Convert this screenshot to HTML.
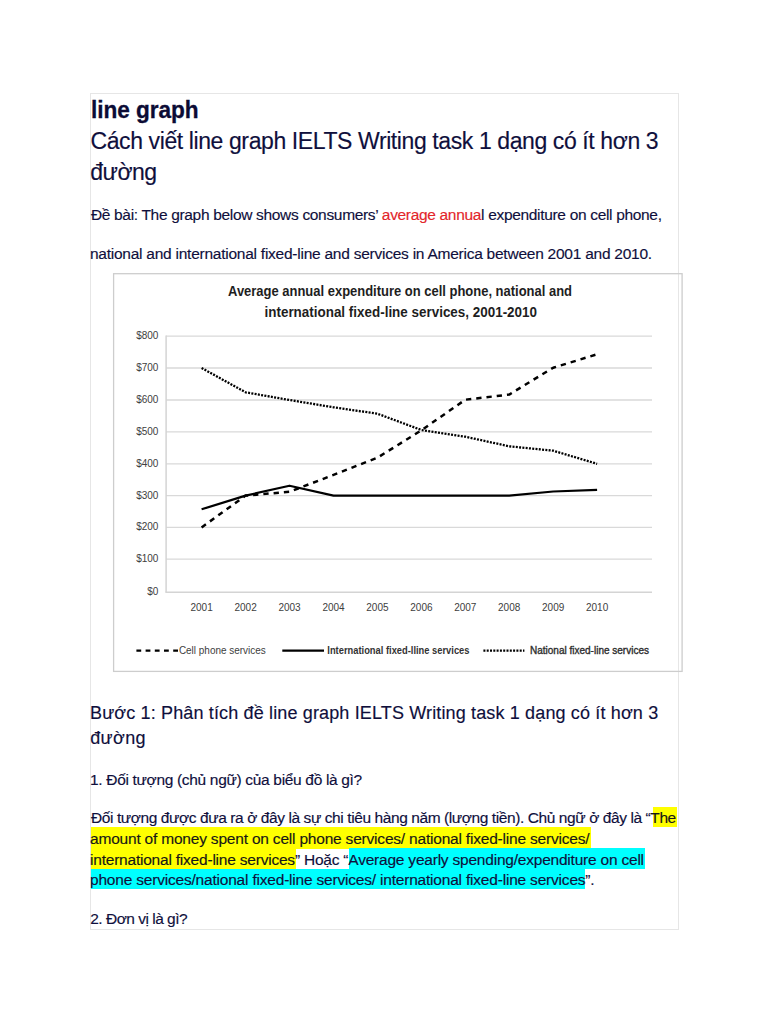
<!DOCTYPE html>
<html><head><meta charset="utf-8"><style>
html,body{margin:0;padding:0;background:#fff;}
body{width:768px;height:1024px;position:relative;overflow:hidden;font-family:"Liberation Sans",sans-serif;color:#0f0f3c;}
.t{position:absolute;white-space:nowrap;line-height:1;}
.pg{position:absolute;left:90px;top:93px;width:587px;height:835px;border:1px solid #e6e6e6;}
.hy{background:#ffff00;}
.hc{background:#00ffff;}
.red{color:#e3262b;}
svg{position:absolute;left:0;top:0;}
</style></head><body>
<div class="pg"></div>
<div class="hy" style="position:absolute;left:653.4px;top:807.4px;width:24.1px;height:20px"></div>
<div class="hy" style="position:absolute;left:91px;top:827.4px;width:500.3px;height:21.2px"></div>
<div class="hy" style="position:absolute;left:91px;top:848.6px;width:205.1px;height:20.1px"></div>
<div class="hc" style="position:absolute;left:349px;top:848.4px;width:296px;height:20.3px"></div>
<div class="hc" style="position:absolute;left:91px;top:868.7px;width:494.3px;height:20.4px"></div>
<div class="t m" id="L1" style="left:90.9px;top:98.48px;font-size:24px;letter-spacing:-0.066px;font-weight:bold;color:#0b0b35;transform:scaleX(0.942);transform-origin:0 0;-webkit-text-stroke:0.3px currentColor;">line graph</div><div class="t m" id="L2" style="left:90.5px;top:129.93px;font-size:23px;letter-spacing:-0.399px;-webkit-text-stroke:0.15px currentColor;">Cách viết line graph IELTS Writing task 1 dạng có ít hơn 3</div><div class="t m" id="L3" style="left:90.25px;top:160.73px;font-size:23px;letter-spacing:-0.508px;-webkit-text-stroke:0.15px currentColor;">đường</div><div class="t m" id="L4" style="left:90.9px;top:206.78px;font-size:15.5px;letter-spacing:-0.322px;-webkit-text-stroke:0.15px currentColor;">Đề bài: The graph below shows consumers’ <span class="red">average annua</span>l expenditure on cell phone,</div><div class="t m" id="L5" style="left:89.9px;top:246.18px;font-size:15.5px;letter-spacing:-0.244px;-webkit-text-stroke:0.15px currentColor;">national and international fixed-line and services in America between 2001 and 2010.</div><div class="t m" id="L7" style="left:90.0px;top:704.16px;font-size:18px;letter-spacing:0.145px;-webkit-text-stroke:0.15px currentColor;">Bước 1: Phân tích đề line graph IELTS Writing task 1 dạng có ít hơn 3</div><div class="t m" id="L8" style="left:90.25px;top:729.36px;font-size:18px;letter-spacing:0.342px;-webkit-text-stroke:0.15px currentColor;">đường</div><div class="t m" id="L9" style="left:90.0px;top:772.28px;font-size:15.5px;letter-spacing:-0.322px;-webkit-text-stroke:0.15px currentColor;">1. Đối tượng (chủ ngữ) của biểu đồ là gì?</div><div class="t m" id="L10" style="left:91.0px;top:809.78px;font-size:15.5px;letter-spacing:-0.411px;-webkit-text-stroke:0.15px currentColor;">Đối tượng được đưa ra ở đây là sự chi tiêu hàng năm (lượng tiền). Chủ ngữ ở đây là “<span style="color:#171717">The</span></div><div class="t m" id="L11" style="left:90.0px;top:831.08px;font-size:15.5px;letter-spacing:-0.2px;color:#171717;-webkit-text-stroke:0.15px currentColor;">amount of money spent on cell phone services/ national fixed-line services/</div><div class="t m" id="L12" style="left:90.0px;top:852.18px;font-size:15.5px;letter-spacing:-0.214px;-webkit-text-stroke:0.15px currentColor;"><span style="color:#171717">international fixed-line services</span>” Hoặc “Average yearly spending/expenditure on cell</div><div class="t m" id="L13" style="left:90.0px;top:872.38px;font-size:15.5px;letter-spacing:-0.199px;-webkit-text-stroke:0.15px currentColor;">phone services/national fixed-line services/ international fixed-line services”.</div><div class="t m" id="L14" style="left:90.25px;top:911.08px;font-size:15.5px;letter-spacing:-0.503px;-webkit-text-stroke:0.15px currentColor;">2. Đơn vị là gì?</div>
<svg width="768" height="1024" viewBox="0 0 768 1024" style="position:absolute;left:0;top:0">
<rect x="113.6" y="273.7" width="568.5" height="397.7" fill="none" stroke="#cdcdcd" stroke-width="1.3"/>
<line x1="166" y1="559.1" x2="652" y2="559.1" stroke="#d9d9d9" stroke-width="1.3"/>
<line x1="166" y1="527.4" x2="652" y2="527.4" stroke="#d9d9d9" stroke-width="1.3"/>
<line x1="166" y1="495.6" x2="652" y2="495.6" stroke="#d9d9d9" stroke-width="1.3"/>
<line x1="166" y1="463.8" x2="652" y2="463.8" stroke="#d9d9d9" stroke-width="1.3"/>
<line x1="166" y1="431.9" x2="652" y2="431.9" stroke="#d9d9d9" stroke-width="1.3"/>
<line x1="166" y1="400" x2="652" y2="400" stroke="#d9d9d9" stroke-width="1.3"/>
<line x1="166" y1="368" x2="652" y2="368" stroke="#d9d9d9" stroke-width="1.3"/>
<line x1="166" y1="336.2" x2="652" y2="336.2" stroke="#d9d9d9" stroke-width="1.3"/>
<line x1="166.1" y1="335.6" x2="166.1" y2="592.3" stroke="#d4d4d4" stroke-width="1.5"/>
<line x1="165.4" y1="592.3" x2="652" y2="592.3" stroke="#d4d4d4" stroke-width="1.5"/>
<g font-family="Liberation Sans, sans-serif" font-weight="bold" fill="#1e1e1e">
<text id="ct1" x="228" y="295.5" font-size="14" textLength="344" lengthAdjust="spacingAndGlyphs">Average annual expenditure on cell phone, national and</text>
<text id="ct2" x="264.5" y="316.7" font-size="14" textLength="272.5" lengthAdjust="spacingAndGlyphs">international fixed-line services, 2001-2010</text>
</g>
<g font-family="Liberation Sans, sans-serif" font-size="10" fill="#404040" text-anchor="end">
<text x="158.4" y="595.3">$0</text>
<text x="158.4" y="562.1">$100</text>
<text x="158.4" y="530.4">$200</text>
<text x="158.4" y="498.6">$300</text>
<text x="158.4" y="466.8">$400</text>
<text x="158.4" y="434.9">$500</text>
<text x="158.4" y="403.0">$600</text>
<text x="158.4" y="371.0">$700</text>
<text x="158.4" y="339.2">$800</text>
</g>
<g font-family="Liberation Sans, sans-serif" font-size="10" fill="#404040" text-anchor="middle">
<text x="201.6" y="611">2001</text>
<text x="245.6" y="611">2002</text>
<text x="289.5" y="611">2003</text>
<text x="333.5" y="611">2004</text>
<text x="377.4" y="611">2005</text>
<text x="421.4" y="611">2006</text>
<text x="465.3" y="611">2007</text>
<text x="509.2" y="611">2008</text>
<text x="553.2" y="611">2009</text>
<text x="597.1" y="611">2010</text>
</g>
<polyline points="201.6,368.0 245.6,392.3 289.5,400.0 333.5,407.3 377.4,413.7 421.4,430.0 465.3,436.7 509.2,446.3 553.2,450.7 597.1,463.8" fill="none" stroke="#000" stroke-width="2.3" stroke-dasharray="2 1.3" stroke-linejoin="round"/>
<polyline points="201.6,527.4 245.6,495.6 289.5,491.8 333.5,474.9 377.4,457.7 421.4,430.3 465.3,399.7 509.2,394.6 553.2,367.7 597.1,354.3" fill="none" stroke="#000" stroke-width="2.5" stroke-dasharray="5.3 5.0" stroke-linejoin="round"/>
<polyline points="201.6,509.3 245.6,495.6 289.5,485.7 333.5,495.6 377.4,495.6 421.4,495.6 465.3,495.6 509.2,495.6 553.2,491.5 597.1,489.9" fill="none" stroke="#000" stroke-width="2.2" stroke-linejoin="round" stroke-linecap="butt"/>
<line x1="136.4" y1="650.6" x2="178.2" y2="650.6" stroke="#000" stroke-width="2.1" stroke-dasharray="4.8 4.4"/>
<line x1="282.3" y1="650.6" x2="324" y2="650.6" stroke="#000" stroke-width="2.4"/>
<line x1="483.4" y1="650.6" x2="524.4" y2="650.6" stroke="#000" stroke-width="2.2" stroke-dasharray="2 1.3"/>
<g font-family="Liberation Sans, sans-serif" font-size="10" fill="#404040">
<text x="178.9" y="653.8" textLength="86.9" lengthAdjust="spacingAndGlyphs">Cell phone services</text>
<text x="327.3" y="653.8" font-weight="bold" fill="#333" textLength="142.2" lengthAdjust="spacingAndGlyphs">International fixed-lline services</text>
<text x="530" y="653.8" fill="#2e2e2e" stroke="#2e2e2e" stroke-width="0.35" textLength="119" lengthAdjust="spacingAndGlyphs">National fixed-line services</text>
</g>
</svg>
</body></html>
